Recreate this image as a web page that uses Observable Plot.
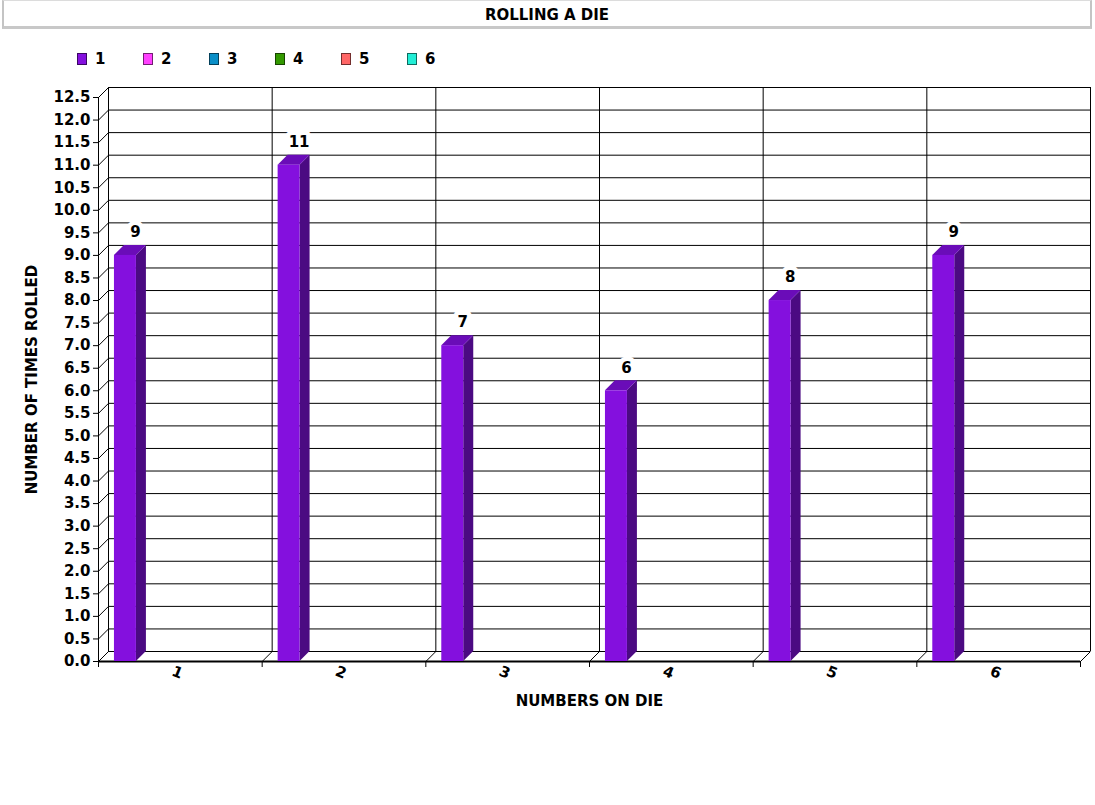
<!DOCTYPE html>
<html><head><meta charset="utf-8">
<script src="https://cdn.jsdelivr.net/npm/d3@7"></script>
<script src="https://cdn.jsdelivr.net/npm/@observablehq/plot@0.6"></script>
<style>
body{margin:0;background:#fff;font-family:"DejaVu Sans",sans-serif;}
#wrap{position:relative;width:1095px;height:805px;overflow:hidden;}
#title{position:absolute;left:2px;top:0;width:1086px;height:25px;border-top:1px solid #dcdcdc;border-left:2px solid #c4c4c4;border-right:2px solid #c4c4c4;border-bottom:3px solid #c8c8c8;text-align:center;font-weight:bold;font-size:15px;line-height:29px;}
#legend{position:absolute;top:50px;left:0;width:1095px;height:20px;}
.item{position:absolute;top:0;display:flex;align-items:center;font-weight:bold;font-size:15px;height:18px;}
.sw{width:10px;height:12px;border:1px solid rgba(0,0,0,0.55);margin-right:8px;box-sizing:border-box;}
#chart{position:absolute;left:0;top:72px;}
#chart svg text{paint-order:stroke;}
</style></head>
<body>
<div id="wrap">
  <div id="title">ROLLING A DIE</div>
  <div id="legend"></div>
  <div id="chart"></div>
</div>
<script>
// ---- data ----
const categories = ["1", "2", "3", "4", "5", "6"];
const seriesNames = ["1", "2", "3", "4", "5", "6"];
const seriesColors = ["#8410de", "#ff40ff", "#0a8fc8", "#339900", "#ff6666", "#22eed6"];
const series1Values = [9, 11, 7, 6, 8, 9];
const yTicks = [0, 0.5, 1, 1.5, 2, 2.5, 3, 3.5, 4, 4.5, 5, 5.5, 6, 6.5, 7, 7.5, 8, 8.5, 9, 9.5, 10, 10.5, 11, 11.5, 12, 12.5];
const yMax = 12.5;
const xTitle = "NUMBERS ON DIE";
const yTitle = "NUMBER OF TIMES ROLLED";

// ---- layout ----
const W = 1095, H = 733, mL = 98, mR = 15, mT = 25, mB = 144;
const DEPTH = 10; // px, 3D depth
const nCat = categories.length;
const dX = DEPTH / ((W - mL - mR) / nCat);
const dY = DEPTH / ((H - mT - mB) / yMax);
const GAP = 0.195;
const slot = (1 - GAP) / seriesNames.length;
const boundaries = d3.range(nCat + 1);
const sideColor = "#4b0a82";
const topColor = "#6a0cb8";

// legend
const legend = d3.select("#legend");
seriesNames.forEach((s, k) => {
  const it = legend.append("div").attr("class", "item").style("left", (77 + 66 * k) + "px");
  it.append("div").attr("class", "sw").style("background", seriesColors[k]);
  it.append("span").text(s);
});

// bars of series 1
const bars = series1Values.map((v, i) => ({
  id: i, v, x1: i + GAP / 2, x2: i + GAP / 2 + slot
}));
const sidePts = bars.flatMap(b => [
  {id: b.id, x: b.x2, y1: 0, y2: b.v},
  {id: b.id, x: b.x2 + dX, y1: dY, y2: b.v + dY}
]);
const topPts = bars.flatMap(b => [
  {id: b.id, x: b.x1, y1: b.v, y2: b.v},
  {id: b.id, x: b.x1 + dX, y1: b.v, y2: b.v + dY},
  {id: b.id, x: b.x2, y1: b.v, y2: b.v + dY},
  {id: b.id, x: b.x2 + dX, y1: b.v + dY, y2: b.v + dY}
]);

const plot = Plot.plot({
  width: W, height: H,
  marginLeft: mL, marginRight: mR, marginTop: mT, marginBottom: mB,
  style: {fontFamily: "DejaVu Sans, sans-serif", fontSize: "15px", fontWeight: "bold", color: "black", background: "white"},
  x: {type: "linear", domain: [0, nCat], ticks: boundaries, tickFormat: () => "", tickSize: 6, label: null},
  y: {domain: [0, yMax], ticks: yTicks, tickFormat: d3.format(".1f"), tickSize: 5, tickPadding: 3, label: null},
  marks: [
    // back wall grid
    Plot.ruleY(yTicks, {y: d => d, x1: () => 0, x2: () => nCat, dx: DEPTH, dy: -DEPTH, stroke: "black"}),
    Plot.ruleX(boundaries, {x: d => d, y1: () => 0, y2: () => yMax, dx: DEPTH, dy: -DEPTH, stroke: "black"}),
    // side diagonals
    Plot.link(yTicks, {x1: () => 0, y1: d => d, x2: () => dX, y2: d => d + dY, stroke: "black"}),
    Plot.link(boundaries, {x1: d => d, y1: () => 0, x2: d => d + dX, y2: () => dY, stroke: "black"}),
    // front axes
    Plot.ruleX([0], {y1: () => 0, y2: () => yMax, stroke: "black"}),
    Plot.ruleY([0], {x1: () => 0, x2: () => nCat, stroke: "black", strokeWidth: 2}),
    // bars
    Plot.area(sidePts, {x1: "x", y1: "y1", y2: "y2", z: "id", fill: sideColor, curve: "linear"}),
    Plot.area(topPts, {x1: "x", y1: "y1", y2: "y2", z: "id", fill: topColor, curve: "linear"}),
    Plot.rect(bars, {x1: "x1", x2: "x2", y1: () => 0, y2: "v", fill: seriesColors[0]}),
    // value labels
    Plot.text(bars, {x: d => (d.x1 + d.x2) / 2 + dX, y: "v", dy: -23, text: d => String(d.v),
      fill: "black", stroke: "white", strokeWidth: 9, strokeLinejoin: "round", fontSize: 15, fontWeight: "bold"}),
    // category labels
    Plot.text(categories, {x: (d, i) => i + 0.5, y: () => 0, dy: 11, dx: -3, rotate: 22, text: d => d,
      fill: "black", fontSize: 15, fontWeight: "bold"}),
    // axis titles
    Plot.text([xTitle], {frameAnchor: "bottom", dy: 44, text: d => d, fill: "black", fontSize: 15, fontWeight: "bold"}),
    Plot.text([yTitle], {frameAnchor: "left", textAnchor: "middle", dx: -66, rotate: -90, text: d => d, fill: "black", fontSize: 15, fontWeight: "bold"})
  ]
});
document.getElementById("chart").appendChild(plot);
</script>
</body></html>
